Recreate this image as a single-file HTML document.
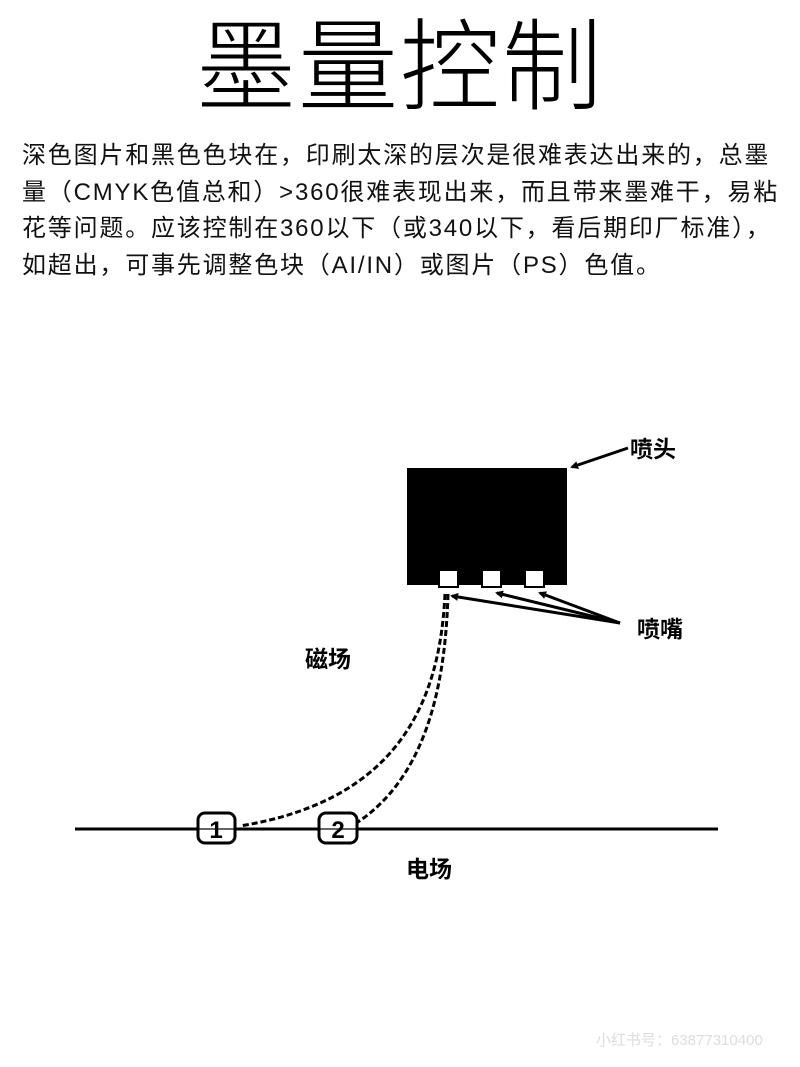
<!DOCTYPE html>
<html><head><meta charset="utf-8"><style>
body{margin:0;width:800px;height:1067px;background:#fff;position:relative;overflow:hidden;font-family:"Liberation Sans","Noto Sans CJK SC",sans-serif;}
.t{position:absolute;left:0;width:800px;top:8px;text-align:center;font-size:100px;line-height:120px;color:#000;letter-spacing:2px;font-weight:300;}
.p{position:absolute;left:22px;top:138px;font-size:24px;letter-spacing:1.8px;line-height:36.5px;color:#111;white-space:nowrap;}
.l{position:absolute;font-weight:bold;font-size:23px;color:#000;}
.w{position:absolute;left:596px;top:1029px;font-size:15px;color:#ddd;}
</style></head><body>
<div class="t">墨量控制</div>
<div class="p">深色图片和黑色色块在，印刷太深的层次是很难表达出来的，总墨<br>量（CMYK色值总和）&gt;360很难表现出来，而且带来墨难干，易粘<br>花等问题。应该控制在360以下（或340以下，看后期印厂标准），<br>如超出，可事先调整色块（AI/IN）或图片（PS）色值。</div>
<svg width="800" height="1067" style="position:absolute;left:0;top:0">
<defs><marker id="a" markerWidth="8" markerHeight="8" refX="6" refY="4" orient="auto" markerUnits="userSpaceOnUse"><path d="M0,0L8,4L0,8z" fill="#000"/></marker></defs>
<rect x="407" y="468" width="160" height="117" fill="#000"/>
<rect x="439" y="570" width="19" height="17" fill="#fff" stroke="#000" stroke-width="2"/>
<rect x="482" y="570" width="19" height="17" fill="#fff" stroke="#000" stroke-width="2"/>
<rect x="525" y="570" width="19" height="17" fill="#fff" stroke="#000" stroke-width="2"/>
<line x1="628" y1="448" x2="572" y2="467" stroke="#000" stroke-width="3" marker-end="url(#a)"/>
<line x1="620" y1="623" x2="452" y2="596" stroke="#000" stroke-width="3" marker-end="url(#a)"/>
<line x1="620" y1="623" x2="497" y2="593" stroke="#000" stroke-width="3" marker-end="url(#a)"/>
<line x1="620" y1="623" x2="540" y2="593" stroke="#000" stroke-width="3" marker-end="url(#a)"/>
<line x1="75" y1="829" x2="718" y2="829" stroke="#000" stroke-width="3"/>
<path d="M445,594 C440,700 400,800 240,826" fill="none" stroke="#000" stroke-width="3" stroke-dasharray="6,3"/>
<path d="M448,594 C445,700 420,780 358,822" fill="none" stroke="#000" stroke-width="3" stroke-dasharray="6,3"/>
<rect x="198" y="813" width="37" height="30" rx="7" fill="#fff" stroke="#000" stroke-width="3"/>
<rect x="319" y="813" width="38" height="30" rx="7" fill="#fff" stroke="#000" stroke-width="3"/>
<line x1="75" y1="829" x2="718" y2="829" stroke="#000" stroke-width="2" opacity="0.6"/>
<text x="216" y="838" font-size="24" font-weight="bold" text-anchor="middle" font-family="Liberation Sans">1</text>
<text x="338" y="838" font-size="24" font-weight="bold" text-anchor="middle" font-family="Liberation Sans">2</text>
</svg>
<div class="l" style="left:630px;top:430px">喷头</div>
<div class="l" style="left:637px;top:610px">喷嘴</div>
<div class="l" style="left:305px;top:640px">磁场</div>
<div class="l" style="left:406px;top:850px">电场</div>
<div class="w">小红书号：63877310400</div>
</body></html>
